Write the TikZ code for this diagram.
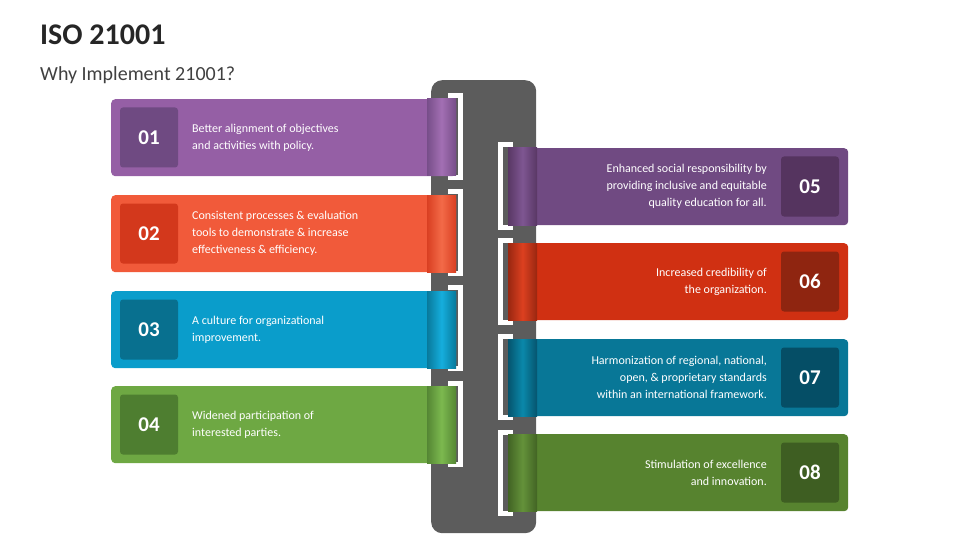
\documentclass[tikz,border=0pt]{standalone}
\usepackage{fontspec}
\setmainfont{Carlito}
\begin{document}
\begin{tikzpicture}[x=1pt,y=-1pt,
  card/.style={rounded corners=4pt,minimum height=77pt,inner sep=0pt,anchor=north west},
  numbox/.style={rounded corners=3pt,minimum width=58pt,minimum height=60pt,inner sep=0pt,font=\fontsize{21}{21}\selectfont\bfseries,text=white},
  txt/.style={text=white,font=\fontsize{12}{17}\selectfont,inner sep=0pt},
  brk/.style={draw=white,line width=5pt}]
\path[use as bounding box] (0,0) rectangle (960,540);
\node[anchor=west,inner sep=0pt,font=\fontsize{30}{30}\selectfont\bfseries,text=black!85] (title) at (40,35) {ISO 21001};
\node[anchor=west,inner sep=0pt,font=\fontsize{20}{20}\selectfont,text=black!75] (sub) at (40,75) {Why Implement 21001?};
\node[fill=black!64,rounded corners=11pt,minimum width=105pt,minimum height=453pt,anchor=north west,inner sep=0pt] (bar) at (431,80) {};
% left brackets
\foreach \t/\b in {93/180,189/276,285/371,381/467}{
  \draw[brk] (448,\t+2.5) -- (460.5,\t+2.5) -- (460.5,\b-2.5) -- (448,\b-2.5);}
% right brackets
\foreach \t/\b in {142/230,238/325,334/420,430/516}{
  \draw[brk] (513,\t+2.5) -- (500.5,\t+2.5) -- (500.5,\b-2.5) -- (513,\b-2.5);}
% left cards
\foreach \n/\y/\c/\d/\l/\txtA in {
 1/99/955FA5/6F4A82/A36FB3/{Better alignment of objectives\\and activities with policy.},
 2/195/F15A3A/D3381C/F36A48/{Consistent processes \& evaluation\\tools to demonstrate \& increase\\effectiveness \& efficiency.},
 3/291/0A9DCB/08708F/15AEDD/{A culture for organizational\\improvement.},
 4/386/6EA843/4E7E30/7CB94F/{Widened participation of\\interested parties.}}{
  \definecolor{base}{HTML}{\c}\definecolor{dk}{HTML}{\d}\definecolor{lt}{HTML}{\l}
  \node[card,fill=base,minimum width=345pt] (L\n) at (111,\y) {};
  \shade[left color=dk!80!base,right color=dk!80!base,middle color=lt] (427,\y) rectangle (456,\y+77);
  \node[numbox,fill=dk] (LN\n) at (149,\y+38.5) {0\n};
  \node[txt,anchor=west,align=left] (LT\n) at (192,\y+38.5) {\txtA};
}
% right cards
\foreach \n/\y/\c/\d/\l/\txtA in {
 5/148/704A82/55345F/7E5692/{Enhanced social responsibility by\\providing inclusive and equitable\\quality education for all.},
 6/243/D03012/8F2510/DC4020/{Increased credibility of\\the organization.},
 7/339/087797/054E66/0A88AA/{Harmonization of regional, national,\\open, \& proprietary standards\\within an international framework.},
 8/434/57832F/3E5E22/64923A/{Stimulation of excellence\\and innovation.}}{
  \definecolor{base}{HTML}{\c}\definecolor{dk}{HTML}{\d}\definecolor{lt}{HTML}{\l}
  \node[card,fill=base,minimum width=340pt] (R\n) at (508,\y) {};
  \shade[left color=dk!85!base,right color=dk!85!base,middle color=lt] (508,\y) rectangle (537,\y+77);
  \node[numbox,fill=dk] (RN\n) at (810,\y+38.5) {0\n};
  \node[txt,anchor=east,align=right] (RT\n) at (767,\y+38.5) {\txtA};
}
\end{tikzpicture}
\end{document}
